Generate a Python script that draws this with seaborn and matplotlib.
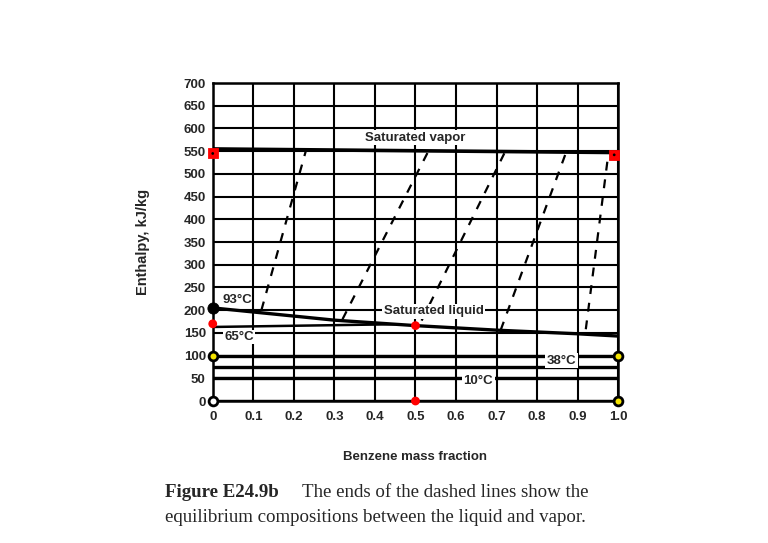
import numpy as np
import pandas as pd
import seaborn as sns
from matplotlib import pyplot as plt

# saturated vapor and liquid curves (benzene mass fraction, enthalpy kJ/kg)
vap_x = [0.0, 0.25, 0.5, 0.75, 1.0]
vap_h = [555, 553, 551, 549, 547]
liq_x = [0.0, 0.1, 0.3, 0.5, 0.7, 0.9, 1.0]
liq_h = [205, 196, 178, 166, 156, 148, 143]

# 65 C line near the liquid curve
iso65_x = [0.0, 0.45]
iso65_h = [163, 169]

# flat isotherm lines across the chart
flat_h = [100, 75, 50, 0]

# dashed tie lines: liquid end -> vapor end
tie_liq_x = [0.12, 0.32, 0.515, 0.71, 0.92]
tie_liq_h = [200, 180, 177, 156, 158]
tie_vap_x = [0.23, 0.53, 0.72, 0.87, 0.975]
tie_vap_h = [552, 547, 547, 544, 540]

# marked points
sq_x = [0.0, 0.99]
sq_h = [545, 542]
red_x = [0.0, 0.5, 0.5]
red_h = [170, 166, 0]
yel_x = [0.0, 1.0, 1.0]
yel_h = [100, 100, 0]

x_ticks = [0, 0.1, 0.2, 0.3, 0.4, 0.5, 0.6, 0.7, 0.8, 0.9, 1.0]
x_labels = ["0", "0.1", "0.2", "0.3", "0.4", "0.5", "0.6", "0.7", "0.8", "0.9", "1.0"]
y_ticks = list(range(0, 701, 50))

sns.set_style("white")
plt.rcParams['font.family'] = ['Liberation Sans', 'DejaVu Sans']
serif = ["Liberation Serif", "DejaVu Serif"]

fig = plt.figure(figsize=(7.68, 5.43), dpi=100)
ax = fig.add_axes([0.277, 0.2615, 0.528, 0.5855])

ax.set_xlim(0, 1.0)
ax.set_ylim(0, 700)
ax.set_xticks(x_ticks)
ax.set_xticklabels(x_labels)
ax.set_yticks(y_ticks)
ax.grid(True, color="black", linewidth=1.5)
ax.set_axisbelow(True)
for s in ax.spines.values():
    s.set_color("black")
    s.set_linewidth(1.8)
ax.tick_params(axis="x", length=0, pad=7, labelsize=9.5)
ax.tick_params(axis="y", length=0, pad=5, labelsize=9.5)
for lab in ax.get_xticklabels() + ax.get_yticklabels():
    lab.set_fontweight("bold")

sns.lineplot(x=vap_x, y=vap_h, ax=ax, color="black", linewidth=2.6)
sns.lineplot(x=liq_x, y=liq_h, ax=ax, color="black", linewidth=2.4)
sns.lineplot(x=iso65_x, y=iso65_h, ax=ax, color="black", linewidth=1.8)
for h in flat_h:
    sns.lineplot(x=[0.0, 1.0], y=[h, h], ax=ax, color="black", linewidth=2.4)

for i in range(len(tie_liq_x)):
    sns.lineplot(x=[tie_liq_x[i], tie_vap_x[i]], y=[tie_liq_h[i], tie_vap_h[i]],
                 ax=ax, color="black", linewidth=1.6, linestyle=(0, (4, 4)))

box = dict(facecolor="white", edgecolor="none", pad=1)
ax.text(0.5, 580, "Saturated vapor", ha="center", va="center", fontsize=9.5,
        fontweight="bold", bbox=box)
ax.text(0.545, 198, "Saturated liquid", ha="center", va="center", fontsize=9.5,
        fontweight="bold", bbox=box)
ax.text(0.06, 222, "93°C", ha="center", va="center", fontsize=9.5, fontweight="bold")
ax.text(0.065, 141, "65°C", ha="center", va="center", fontsize=9.5,
        fontweight="bold", bbox=box)
ax.text(0.86, 89, "38°C", ha="center", va="center", fontsize=9.5,
        fontweight="bold", bbox=box)
ax.text(0.655, 44, "10°C", ha="center", va="center", fontsize=9.5,
        fontweight="bold", bbox=box)

sns.scatterplot(x=[0.0], y=[205], ax=ax, color="black", s=65, edgecolor="black",
                clip_on=False, zorder=5)
sns.scatterplot(x=[0.0], y=[0], ax=ax, color="white", s=40, edgecolor="black",
                linewidth=2, clip_on=False, zorder=5)
sns.scatterplot(x=yel_x, y=yel_h, ax=ax, color="#f5e400", s=40, edgecolor="black",
                linewidth=2, clip_on=False, zorder=5)
sns.scatterplot(x=red_x, y=red_h, ax=ax, color="red", s=40, edgecolor="none",
                clip_on=False, zorder=5)
sns.scatterplot(x=sq_x, y=sq_h, ax=ax, color="red", marker="s", s=55,
                edgecolor="red", clip_on=False, zorder=5)
sns.scatterplot(x=sq_x, y=sq_h, ax=ax, color="black", s=4, edgecolor="none",
                clip_on=False, zorder=6)

ax.set_xlabel("Benzene mass fraction", fontsize=9.5, fontweight="bold", labelpad=20)
ax.set_ylabel("Enthalpy, kJ/kg", fontsize=10.5, fontweight="bold", labelpad=24)

fig.text(0.215, 0.093, "Figure E24.9b", fontsize=13.6, fontweight="bold",
         family=serif, va="center")
fig.text(0.393, 0.093, "The ends of the dashed lines show the", fontsize=13.6,
         family=serif, va="center")
fig.text(0.215, 0.047, "equilibrium compositions between the liquid and vapor.",
         fontsize=13.6, family=serif, va="center")

fig.savefig("out.png", dpi=100, facecolor="white")
